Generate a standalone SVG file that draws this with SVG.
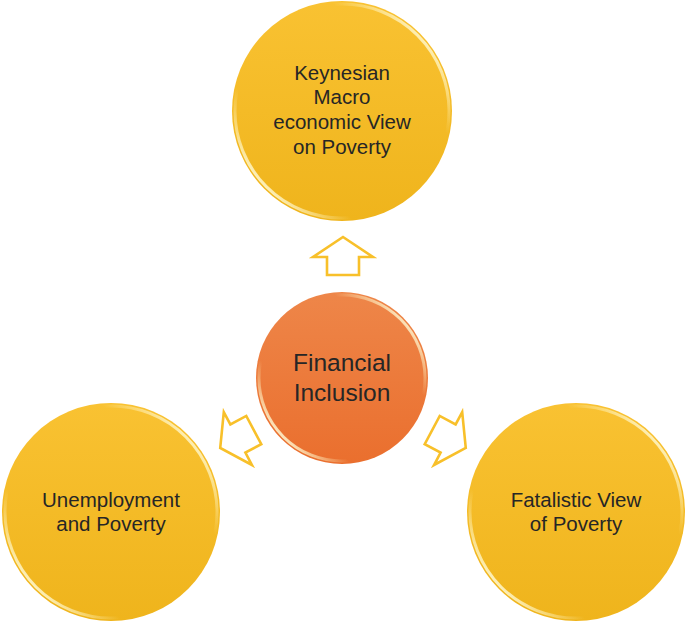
<svg xmlns="http://www.w3.org/2000/svg" width="685" height="623" viewBox="0 0 685 623">
<defs>
<linearGradient id="gy" x1="0" y1="0" x2="0" y2="1">
<stop offset="0" stop-color="#F9C232"/>
<stop offset="1" stop-color="#EFB41C"/>
</linearGradient>
<linearGradient id="go" x1="0" y1="0" x2="0" y2="1">
<stop offset="0" stop-color="#EE8649"/>
<stop offset="1" stop-color="#EA6F2E"/>
</linearGradient>
<linearGradient id="rim" x1="0.1" y1="0.85" x2="0.9" y2="0.15">
<stop offset="0" stop-color="#FFFBD8" stop-opacity="0.95"/>
<stop offset="0.22" stop-color="#FFF6C0" stop-opacity="0"/>
<stop offset="0.78" stop-color="#FFF6C0" stop-opacity="0"/>
<stop offset="1" stop-color="#FFFBD8" stop-opacity="0.9"/>
</linearGradient>
<polygon id="arr" points="0,-19 30,1 16,1 16,19 -16,19 -16,1 -30,1"/>
</defs>
<style>
.y{fill:url(#gy)}
.o{fill:url(#go)}
.rim{fill:none;stroke:url(#rim);stroke-width:3}
.t{font-family:"Liberation Sans",Arial,sans-serif;font-size:20.5px;fill:#262626;text-anchor:middle}
.tc{font-family:"Liberation Sans",Arial,sans-serif;font-size:24.5px;fill:#262626;text-anchor:middle}
.a{fill:#fff;stroke:#F8C02A;stroke-width:2.6;stroke-linejoin:miter}
</style>
<rect width="685" height="623" fill="#fff"/>
<g id="connectors">
<use href="#arr" class="a" transform="translate(343,256)"/>
<use href="#arr" class="a" transform="translate(237,439) rotate(-118)"/>
<use href="#arr" class="a" transform="translate(449,439) rotate(118)"/>
</g>
<g id="top">
<circle cx="342" cy="111" r="110" class="y"/>
<circle cx="342" cy="111" r="107" class="rim"/>
<text class="t" x="342" y="79.5">Keynesian</text>
<text class="t" x="342" y="104">Macro</text>
<text class="t" x="342" y="129">economic View</text>
<text class="t" x="342" y="153.5">on Poverty</text>
</g>
<g id="center">
<circle cx="342" cy="378" r="86" class="o"/>
<circle cx="342" cy="378" r="83" class="rim"/>
<text class="tc" x="342" y="371">Financial</text>
<text class="tc" x="342" y="401">Inclusion</text>
</g>
<g id="left">
<circle cx="111" cy="512" r="109" class="y"/>
<circle cx="111" cy="512" r="106" class="rim"/>
<text class="t" x="111" y="507">Unemployment</text>
<text class="t" x="111" y="531">and Poverty</text>
</g>
<g id="right">
<circle cx="576" cy="512" r="109" class="y"/>
<circle cx="576" cy="512" r="106" class="rim"/>
<text class="t" x="576" y="507">Fatalistic View</text>
<text class="t" x="576" y="531">of Poverty</text>
</g>
</svg>
